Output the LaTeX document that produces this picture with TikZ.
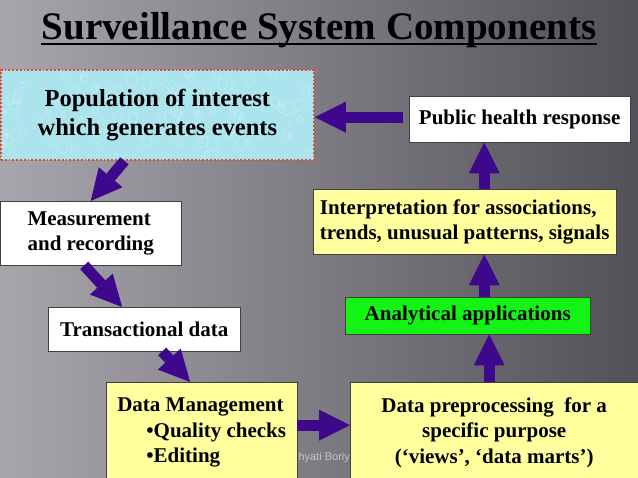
\documentclass[tikz,border=0pt]{standalone}
\usepackage{fontspec}
\setmainfont{Liberation Serif}
\newfontfamily\footfont{Liberation Sans}
\usepackage{xcolor}
\usetikzlibrary{arrows.meta,positioning}

\definecolor{bgleft}{RGB}{168,166,172}
\definecolor{bgright}{RGB}{82,81,87}
\definecolor{arrowc}{RGB}{62,8,140}
\definecolor{popfill}{RGB}{172,228,238}
\definecolor{popline}{RGB}{232,72,40}
\definecolor{boxyellow}{RGB}{255,255,158}
\definecolor{boxgreen}{RGB}{18,245,18}

\begin{document}
\begin{tikzpicture}[
        x=1pt, y=-1pt,
        box/.style={rectangle, draw=black!75, fill=white, anchor=north west, inner sep=0pt, align=center, font=\fontsize{21}{25.5}\selectfont\bfseries},
        popbox/.style={box, draw=popline, fill=popfill, dotted, line width=1.8pt, font=\fontsize{24.5}{29}\selectfont\bfseries},
        drops/.style={path picture={
            \pgfmathsetseed{11}
            \foreach \k in {1,...,110}{
                \pgfmathsetmacro\px{rnd*313}
                \pgfmathsetmacro\py{rnd*90}
                \pgfmathsetmacro\pr{1.5+rnd*4}
                \draw[solid, white, opacity=0.3, line width=0.6pt] ([shift={(\px pt,-\py pt)}]path picture bounding box.north west) circle[x radius=\pr pt, y radius=1.3*\pr pt];
            }}},
        yellowbox/.style={box, fill=boxyellow},
        greenbox/.style={box, fill=boxgreen},
        barrow/.style={draw=arrowc, line width=11pt, -{Triangle[width=31pt, length=31pt, line width=0pt]}},
        title/.style={font=\fontsize{39}{44}\selectfont\bfseries, inner sep=0pt, anchor=base}
    ]
    
    % Background
    \useasboundingbox (0,0) rectangle (638,478);
    \clip (0,0) rectangle (638,478);
    \shade[left color=bgleft, right color=bgright] (0,0) rectangle (638,478);
    
    % Title
    \node[title] (title) at (319,40) {Surveillance System Components};
    \draw[line width=2pt] ([yshift=-4pt]title.base west) -- ([yshift=-4pt]title.base east);
    
    % Footer (partly hidden by the boxes)
    \node[anchor=base west, inner sep=0pt, text=gray!45, font=\footfont\fontsize{11}{13}\selectfont] (footer) at (291,461) {Khyati Boriya};
    
    % Left column
    \node[popbox, drops, minimum width=313pt, minimum height=90pt] (pop) at (0,69) {Population of interest\\which generates events};
    \node[box, align=left, minimum width=181pt, minimum height=64pt] (meas) at (0,201) {Measurement\\and recording};
    \node[box, minimum width=192pt, minimum height=44pt] (trans) at (48,307) {Transactional data};
    \node[yellowbox, align=left, minimum width=191pt, minimum height=101pt] (dm) at (106,382) {Data Management\\\hspace*{29pt}\textbullet Quality checks\\\hspace*{29pt}\textbullet Editing};
    
    % Right column
    \node[box, minimum width=221pt, minimum height=46pt] (phr) at (409,96) {Public health response};
    \node[yellowbox, align=left, minimum width=303pt, minimum height=65pt] (interp) at (313,189) {Interpretation for associations,\\trends, unusual patterns, signals};
    \node[greenbox, minimum width=245pt, minimum height=37pt] (analyt) at (345,297) {Analytical applications};
    \node[yellowbox, minimum width=288pt, minimum height=101pt] (dp) at (350,382) {Data preprocessing~ for a\\specific purpose\\(`views', `data marts')};
    
    % Arrows down the left side
    \draw[barrow] ([xshift=-33pt]pop.south) -- (meas.north);
    \draw[barrow] ([xshift=-6.5pt]meas.south) -- ([xshift=-22pt]trans.north);
    \draw[barrow] ([xshift=18pt]trans.south) -- ([xshift=-11.5pt]dm.north);
    
    % Arrows across and up the right side
    \draw[barrow] ([yshift=7.5pt]dm.east) -- ([yshift=7.5pt]dm.east -| dp.west);
    \draw[barrow] ([xshift=-5pt]dp.north) -- ([xshift=-5pt]dp.north |- analyt.south);
    \draw[barrow] ([xshift=16.5pt]analyt.north) -- ([xshift=16.5pt]analyt.north |- interp.south);
    \draw[barrow] ([xshift=19.5pt]interp.north) -- ([xshift=19.5pt]interp.north |- phr.south);
    \draw[barrow] ([xshift=-6pt,yshift=2pt]phr.west) -- ([yshift=2pt]phr.west -| pop.east);
    
\end{tikzpicture}
\end{document}
